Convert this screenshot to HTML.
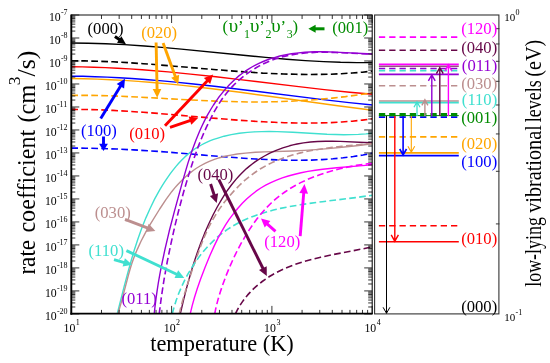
<!DOCTYPE html>
<html><head><meta charset="utf-8"><title>plot</title><style>html,body{margin:0;padding:0;background:#fff}body{width:550px;height:363px;overflow:hidden}</style></head><body>
<svg width="550" height="363" viewBox="0 0 550 363" style="display:block">
<rect width="550" height="363" fill="#fff"/>
<defs><clipPath id="cl"><rect x="71.3" y="15.0" width="300.9" height="298.9"/></clipPath></defs>
<g clip-path="url(#cl)" fill="none" stroke-width="1.4" stroke-linejoin="round">
<path d="M71.3,43.0 88.3,43.2 105.8,43.7 124.6,44.6 144.5,46.0 162.0,47.4 181.3,49.1 243.3,55.3 265.6,57.4 286.7,59.2 305.4,60.6 323.6,61.6 340.5,62.3 356.8,62.6 372.6,62.6" stroke="#000000"/>
<path d="M71.3,60.8 84.6,60.9 98.5,61.3 113.0,61.8 128.7,62.7 143.2,63.7 158.9,64.9 216.2,69.7 239.2,71.5 262.7,73.1 283.8,74.0 295.9,74.3 308.0,74.5 319.5,74.4 330.3,74.2 341.2,73.7 352.1,73.0 362.3,72.2 372.6,71.1" stroke="#000000" stroke-width="1.6" stroke-dasharray="6.7,3.3"/>
<path d="M71.3,66.8 82.2,66.9 93.8,67.2 105.3,67.6 117.4,68.2 129.5,68.9 142.2,69.7 168.2,71.9 190.5,74.1 215.9,76.8 240.0,79.6 296.6,86.4 324.3,89.6 349.6,92.2 372.6,94.3" stroke="#ff0000"/>
<path d="M71.3,76.2 82.8,76.3 95.0,76.7 107.1,77.1 119.2,77.7 131.9,78.5 145.3,79.5 159.2,80.6 173.1,81.9 193.6,84.0 216.5,86.5 243.0,89.7 323.1,99.6 349.1,102.6 372.6,105.0" stroke="#0000ff"/>
<path d="M71.3,78.5 84.1,78.7 97.4,79.1 110.8,79.7 124.1,80.4 138.1,81.4 152.6,82.5 167.7,83.9 182.8,85.4 210.0,88.5 240.1,92.3 269.1,96.2 337.7,105.7 372.6,110.3" stroke="#ffa500"/>
<path d="M71.3,95.3 90.6,95.4 111.8,95.9 137.2,97.0 191.6,100.0 215.2,101.1 228.5,101.5 240.6,101.8 252.1,102.0 263.0,102.0 276.9,101.7 290.8,101.2 304.6,100.4 318.5,99.4 332.4,98.1 345.6,96.6 359.4,94.7 372.6,92.7" stroke="#ffa500" stroke-width="1.6" stroke-dasharray="6.7,3.3"/>
<path d="M71.3,109.4 84.6,109.5 98.5,109.8 113.0,110.4 128.7,111.3 143.2,112.3 158.9,113.5 216.3,118.4 239.8,120.3 263.4,121.8 274.2,122.3 284.5,122.7 296.6,123.0 308.7,123.1 320.1,122.9 331.0,122.6 341.8,122.0 352.1,121.2 362.4,120.1 372.6,118.8" stroke="#ff0000" stroke-width="1.6" stroke-dasharray="6.7,3.3"/>
<path d="M71.3,148.1 85.8,148.2 101.0,148.5 116.7,149.0 133.6,149.9 149.3,150.8 166.3,152.0 221.3,156.6 243.6,158.2 255.7,159.0 266.6,159.5 276.9,159.9 287.1,160.2 299.8,160.3 311.3,160.1 322.1,159.6 333.0,158.8 343.2,157.8 353.4,156.5 363.0,155.0 372.6,153.1" stroke="#0000ff" stroke-width="1.6" stroke-dasharray="6.7,3.3"/>
<path d="M117.2,313.9 124.1,286.7 127.5,273.9 131.0,261.2 134.3,250.0 138.0,238.8 141.9,227.8 146.0,217.6 150.2,208.2 154.7,198.9 157.2,194.3 159.7,189.8 162.4,185.4 164.8,181.6 167.7,177.3 170.3,173.7 173.0,170.1 175.8,166.6 178.7,163.3 181.8,160.0 184.9,156.9 187.7,154.5 190.5,152.1 193.4,150.0 195.7,148.3 198.8,146.5 201.3,145.0 204.4,143.4 210.3,140.7 213.7,139.4 217.1,138.3 224.1,136.2 231.2,134.6 239.2,133.3 247.4,132.4 254.1,131.9 261.6,131.6 269.1,131.5 277.3,131.6 292.8,132.2 327.0,134.2 335.7,134.5 343.7,134.7 351.0,134.6 358.4,134.4 365.9,133.9 372.6,133.3" stroke="#40e0d0"/>
<path d="M117.9,313.9 119.7,307.9 121.4,301.9 128.5,274.7 130.2,268.7 131.9,263.3 134.5,256.1 137.4,249.1 140.9,241.5 144.7,234.1 147.4,229.2 150.5,223.8 159.7,209.0 165.9,199.6 168.8,195.6 171.7,191.7 174.8,187.9 177.6,184.7 180.5,181.7 183.5,178.7 186.6,175.8 189.9,173.1 193.2,170.5 196.0,168.5 200.1,166.0 205.0,163.3 209.3,161.4 214.4,159.4 219.6,157.7 224.9,156.3 231.0,155.1 237.2,154.0 245.5,153.1 255.4,152.3 264.6,151.9 292.9,151.0 304.1,150.4 315.8,149.6 328.1,148.6 341.9,147.2 356.4,145.7 372.6,143.8" stroke="#bc8f8f"/>
<path d="M154.2,313.9 155.0,306.7 156.0,298.7 157.1,290.8 158.3,283.0 159.7,275.2 161.3,266.6 164.9,249.7 169.2,231.3 174.6,210.6 182.6,181.4 185.5,171.4 188.0,162.9 192.0,150.8 195.9,140.3 199.8,130.7 202.1,125.7 204.2,121.4 206.3,117.2 208.6,113.1 211.0,109.0 213.5,105.0 216.1,101.1 218.4,97.8 221.3,94.1 223.8,91.0 226.9,87.4 229.6,84.5 233.0,81.2 235.9,78.5 238.9,75.9 242.1,73.5 245.3,71.2 248.5,69.1 251.9,67.0 255.4,65.2 258.9,63.4 263.2,61.5 266.9,60.0 271.4,58.4 275.2,57.3 279.8,56.0 283.6,55.2 287.5,54.4 291.4,53.7 296.2,53.1 304.9,52.3 314.6,51.8 324.3,51.8 334.7,52.1 372.6,54.0" stroke="#9400d3"/>
<path d="M159.2,313.9 161.4,296.8 164.0,279.8 167.2,262.0 170.8,244.3 174.7,226.7 179.0,209.2 183.9,191.0 189.0,173.8 193.3,160.4 197.7,147.9 202.1,137.0 204.6,131.2 206.9,126.2 209.3,121.2 211.8,116.3 214.4,111.4 217.2,106.6 219.7,102.6 221.9,99.3 224.2,96.1 227.1,92.4 229.6,89.5 232.3,86.6 235.0,83.8 238.4,80.6 241.4,78.1 245.1,75.2 248.2,72.9 252.1,70.3 256.1,67.8 259.4,65.9 263.6,63.8 267.1,62.2 271.5,60.4 275.1,59.1 278.8,57.9 282.6,56.8 286.3,55.9 290.2,55.1 294.0,54.4 298.7,53.7 307.3,52.8 316.8,52.3 325.6,52.2 336.0,52.5 372.6,54.2" stroke="#9400d3" stroke-width="1.6" stroke-dasharray="6.7,3.3"/>
<path d="M180.3,313.9 183.7,299.4 186.9,286.9 190.2,275.0 193.6,263.8 197.1,253.2 200.7,243.3 204.6,233.4 208.6,224.2 213.0,215.0 217.5,206.5 222.0,198.8 226.5,191.7 231.4,185.0 236.2,179.1 239.0,176.0 241.4,173.5 246.5,168.6 249.2,166.4 251.9,164.2 254.7,162.1 257.6,160.1 263.6,156.5 269.8,153.2 276.2,150.3 282.8,147.9 289.6,145.8 293.0,144.9 297.1,144.0 303.5,142.9 310.5,142.0 317.6,141.5 325.4,141.2 332.5,141.2 340.3,141.4 364.5,142.5 372.6,142.8" stroke="#670748"/>
<path d="M179.2,313.9 181.4,305.0 184.2,295.0 187.4,284.6 191.5,272.0 197.4,255.2 201.1,244.9 204.8,235.8 208.6,227.5 212.0,220.9 215.5,215.1 219.5,208.9 223.9,202.8 229.0,196.6 234.0,190.9 239.3,185.5 244.4,180.7 249.8,176.3 254.9,172.5 260.1,169.0 266.1,165.6 272.1,162.6 278.4,159.9 285.3,157.3 292.4,155.1 299.6,153.1 307.4,151.3 315.4,149.8 324.0,148.5 332.6,147.3 341.8,146.3 372.6,143.5" stroke="#bc8f8f" stroke-width="1.6" stroke-dasharray="6.7,3.3"/>
<path d="M172.2,313.9 174.2,306.7 176.3,300.0 178.8,293.3 181.6,286.7 184.6,280.3 188.0,273.9 191.7,267.7 195.6,261.7 199.8,255.9 204.0,250.7 208.4,245.8 213.1,241.1 217.9,236.7 222.6,232.9 227.5,229.4 233.0,225.9 237.8,223.2 243.2,220.5 248.8,218.1 254.4,215.9 260.1,213.9 266.5,211.9 273.4,210.1 280.4,208.4 286.4,207.2 293.0,206.0 300.1,204.8 308.2,203.6 322.3,201.7 355.5,197.6 372.6,195.2" stroke="#40e0d0" stroke-width="1.6" stroke-dasharray="6.7,3.3"/>
<path d="M190.2,313.9 192.2,305.6 194.6,297.0 197.3,288.5 200.6,279.1 204.9,267.8 209.8,255.7 214.1,246.1 218.0,238.1 221.6,231.6 225.4,225.2 229.5,218.9 233.7,213.3 238.1,208.0 242.3,203.3 246.9,198.8 251.6,194.7 256.1,191.2 260.8,188.0 265.7,185.2 270.8,182.6 276.5,180.1 282.3,177.9 288.3,176.0 294.9,174.2 301.1,172.8 307.9,171.4 315.3,170.2 322.8,169.2 336.7,167.8 362.4,165.6 372.6,164.7" stroke="#ff00ff"/>
<path d="M214.7,313.9 216.1,306.9 218.0,299.6 220.3,291.9 222.9,284.3 226.2,275.4 229.6,267.1 233.3,258.8 237.0,251.1 240.8,243.9 244.9,236.9 248.9,230.4 253.2,224.0 257.4,218.3 261.6,213.2 266.0,208.2 270.7,203.5 275.2,199.4 279.9,195.6 284.9,192.0 290.0,188.6 295.3,185.5 301.2,182.4 307.2,179.6 313.4,177.0 319.7,174.7 326.6,172.4 333.5,170.4 340.9,168.5 348.4,166.9 356.4,165.4 364.3,164.2 372.6,163.2" stroke="#ff00ff" stroke-width="1.6" stroke-dasharray="6.7,3.3"/>
<path d="M235.4,313.9 237.0,310.6 238.9,307.2 240.8,304.1 243.0,300.9 245.3,297.8 247.7,294.9 250.3,292.1 253.2,289.1 255.9,286.6 259.0,284.0 262.2,281.5 265.6,279.1 269.0,276.8 272.5,274.7 276.0,272.7 280.0,270.7 287.2,267.5 294.9,264.5 303.5,261.7 312.5,259.2 320.7,257.2 329.8,255.2 361.0,249.2 372.6,246.8" stroke="#670748" stroke-width="1.6" stroke-dasharray="6.7,3.3"/>
</g>
<path d="M71.3,313.90h8.0M372.2,313.90h-8.0M71.3,306.98h4.0M372.2,306.98h-4.0M71.3,302.93h4.0M372.2,302.93h-4.0M71.3,300.06h4.0M372.2,300.06h-4.0M71.3,297.83h4.0M372.2,297.83h-4.0M71.3,296.01h4.0M372.2,296.01h-4.0M71.3,294.47h4.0M372.2,294.47h-4.0M71.3,293.14h4.0M372.2,293.14h-4.0M71.3,291.96h4.0M372.2,291.96h-4.0M71.3,290.91h8.0M372.2,290.91h-8.0M71.3,283.99h4.0M372.2,283.99h-4.0M71.3,279.94h4.0M372.2,279.94h-4.0M71.3,277.06h4.0M372.2,277.06h-4.0M71.3,274.84h4.0M372.2,274.84h-4.0M71.3,273.02h4.0M372.2,273.02h-4.0M71.3,271.48h4.0M372.2,271.48h-4.0M71.3,270.14h4.0M372.2,270.14h-4.0M71.3,268.97h4.0M372.2,268.97h-4.0M71.3,267.92h8.0M372.2,267.92h-8.0M71.3,260.99h4.0M372.2,260.99h-4.0M71.3,256.95h4.0M372.2,256.95h-4.0M71.3,254.07h4.0M372.2,254.07h-4.0M71.3,251.84h4.0M372.2,251.84h-4.0M71.3,250.02h4.0M372.2,250.02h-4.0M71.3,248.48h4.0M372.2,248.48h-4.0M71.3,247.15h4.0M372.2,247.15h-4.0M71.3,245.98h4.0M372.2,245.98h-4.0M71.3,244.92h8.0M372.2,244.92h-8.0M71.3,238.00h4.0M372.2,238.00h-4.0M71.3,233.95h4.0M372.2,233.95h-4.0M71.3,231.08h4.0M372.2,231.08h-4.0M71.3,228.85h4.0M372.2,228.85h-4.0M71.3,227.03h4.0M372.2,227.03h-4.0M71.3,225.49h4.0M372.2,225.49h-4.0M71.3,224.16h4.0M372.2,224.16h-4.0M71.3,222.98h4.0M372.2,222.98h-4.0M71.3,221.93h8.0M372.2,221.93h-8.0M71.3,215.01h4.0M372.2,215.01h-4.0M71.3,210.96h4.0M372.2,210.96h-4.0M71.3,208.09h4.0M372.2,208.09h-4.0M71.3,205.86h4.0M372.2,205.86h-4.0M71.3,204.04h4.0M372.2,204.04h-4.0M71.3,202.50h4.0M372.2,202.50h-4.0M71.3,201.17h4.0M372.2,201.17h-4.0M71.3,199.99h4.0M372.2,199.99h-4.0M71.3,198.94h8.0M372.2,198.94h-8.0M71.3,192.02h4.0M372.2,192.02h-4.0M71.3,187.97h4.0M372.2,187.97h-4.0M71.3,185.10h4.0M372.2,185.10h-4.0M71.3,182.87h4.0M372.2,182.87h-4.0M71.3,181.05h4.0M372.2,181.05h-4.0M71.3,179.51h4.0M372.2,179.51h-4.0M71.3,178.17h4.0M372.2,178.17h-4.0M71.3,177.00h4.0M372.2,177.00h-4.0M71.3,175.95h8.0M372.2,175.95h-8.0M71.3,169.02h4.0M372.2,169.02h-4.0M71.3,164.98h4.0M372.2,164.98h-4.0M71.3,162.10h4.0M372.2,162.10h-4.0M71.3,159.88h4.0M372.2,159.88h-4.0M71.3,158.05h4.0M372.2,158.05h-4.0M71.3,156.52h4.0M372.2,156.52h-4.0M71.3,155.18h4.0M372.2,155.18h-4.0M71.3,154.01h4.0M372.2,154.01h-4.0M71.3,152.95h8.0M372.2,152.95h-8.0M71.3,146.03h4.0M372.2,146.03h-4.0M71.3,141.98h4.0M372.2,141.98h-4.0M71.3,139.11h4.0M372.2,139.11h-4.0M71.3,136.88h4.0M372.2,136.88h-4.0M71.3,135.06h4.0M372.2,135.06h-4.0M71.3,133.52h4.0M372.2,133.52h-4.0M71.3,132.19h4.0M372.2,132.19h-4.0M71.3,131.01h4.0M372.2,131.01h-4.0M71.3,129.96h8.0M372.2,129.96h-8.0M71.3,123.04h4.0M372.2,123.04h-4.0M71.3,118.99h4.0M372.2,118.99h-4.0M71.3,116.12h4.0M372.2,116.12h-4.0M71.3,113.89h4.0M372.2,113.89h-4.0M71.3,112.07h4.0M372.2,112.07h-4.0M71.3,110.53h4.0M372.2,110.53h-4.0M71.3,109.20h4.0M372.2,109.20h-4.0M71.3,108.02h4.0M372.2,108.02h-4.0M71.3,106.97h8.0M372.2,106.97h-8.0M71.3,100.05h4.0M372.2,100.05h-4.0M71.3,96.00h4.0M372.2,96.00h-4.0M71.3,93.13h4.0M372.2,93.13h-4.0M71.3,90.90h4.0M372.2,90.90h-4.0M71.3,89.08h4.0M372.2,89.08h-4.0M71.3,87.54h4.0M372.2,87.54h-4.0M71.3,86.21h4.0M372.2,86.21h-4.0M71.3,85.03h4.0M372.2,85.03h-4.0M71.3,83.98h8.0M372.2,83.98h-8.0M71.3,77.06h4.0M372.2,77.06h-4.0M71.3,73.01h4.0M372.2,73.01h-4.0M71.3,70.13h4.0M372.2,70.13h-4.0M71.3,67.91h4.0M372.2,67.91h-4.0M71.3,66.09h4.0M372.2,66.09h-4.0M71.3,64.55h4.0M372.2,64.55h-4.0M71.3,63.21h4.0M372.2,63.21h-4.0M71.3,62.04h4.0M372.2,62.04h-4.0M71.3,60.98h8.0M372.2,60.98h-8.0M71.3,54.06h4.0M372.2,54.06h-4.0M71.3,50.01h4.0M372.2,50.01h-4.0M71.3,47.14h4.0M372.2,47.14h-4.0M71.3,44.91h4.0M372.2,44.91h-4.0M71.3,43.09h4.0M372.2,43.09h-4.0M71.3,41.55h4.0M372.2,41.55h-4.0M71.3,40.22h4.0M372.2,40.22h-4.0M71.3,39.04h4.0M372.2,39.04h-4.0M71.3,37.99h8.0M372.2,37.99h-8.0M71.3,31.07h4.0M372.2,31.07h-4.0M71.3,27.02h4.0M372.2,27.02h-4.0M71.3,24.15h4.0M372.2,24.15h-4.0M71.3,21.92h4.0M372.2,21.92h-4.0M71.3,20.10h4.0M372.2,20.10h-4.0M71.3,18.56h4.0M372.2,18.56h-4.0M71.3,17.23h4.0M372.2,17.23h-4.0M71.3,16.05h4.0M372.2,16.05h-4.0M71.3,15.00h8.0M372.2,15.00h-8.0M71.30,313.9v-8.0M71.30,15.0v8.0M101.49,313.9v-4.0M101.49,15.0v4.0M119.16,313.9v-4.0M119.16,15.0v4.0M131.69,313.9v-4.0M131.69,15.0v4.0M141.41,313.9v-4.0M141.41,15.0v4.0M149.35,313.9v-4.0M149.35,15.0v4.0M156.06,313.9v-4.0M156.06,15.0v4.0M161.88,313.9v-4.0M161.88,15.0v4.0M167.01,313.9v-4.0M167.01,15.0v4.0M171.60,313.9v-8.0M171.60,15.0v8.0M201.79,313.9v-4.0M201.79,15.0v4.0M219.46,313.9v-4.0M219.46,15.0v4.0M231.99,313.9v-4.0M231.99,15.0v4.0M241.71,313.9v-4.0M241.71,15.0v4.0M249.65,313.9v-4.0M249.65,15.0v4.0M256.36,313.9v-4.0M256.36,15.0v4.0M262.18,313.9v-4.0M262.18,15.0v4.0M267.31,313.9v-4.0M267.31,15.0v4.0M271.90,313.9v-8.0M271.90,15.0v8.0M302.09,313.9v-4.0M302.09,15.0v4.0M319.76,313.9v-4.0M319.76,15.0v4.0M332.29,313.9v-4.0M332.29,15.0v4.0M342.01,313.9v-4.0M342.01,15.0v4.0M349.95,313.9v-4.0M349.95,15.0v4.0M356.66,313.9v-4.0M356.66,15.0v4.0M362.48,313.9v-4.0M362.48,15.0v4.0M367.61,313.9v-4.0M367.61,15.0v4.0M372.20,313.9v-8.0M372.20,15.0v8.0" stroke="#111" stroke-width="0.85" fill="none"/>
<path d="M71.3,14.5V314.8" stroke="#000" stroke-width="1.9" fill="none"/>
<path d="M70.4,313.7H372.7" stroke="#000" stroke-width="1.8" fill="none"/>
<path d="M71.3,15.0H372.2V313.9" stroke="#111" stroke-width="1.1" fill="none"/>
<rect x="374.6" y="15.0" width="124.3" height="298.9" fill="none" stroke="#333" stroke-width="1.1"/>
<path d="M499.4,223.92h-3.5M499.4,171.29h-3.5M499.4,133.94h-3.5M499.4,104.98h-3.5M499.4,81.31h-3.5M499.4,61.30h-3.5M499.4,43.97h-3.5M499.4,28.68h-3.5" stroke="#333" stroke-width="1" fill="none"/>
<path d="M378.9,37.1H458.8" stroke="#ff00ff" stroke-width="1.6" stroke-dasharray="6.3,4.0"/>
<path d="M378.9,50.3H458.8" stroke="#670748" stroke-width="1.6" stroke-dasharray="6.3,4.0"/>
<path d="M378.9,64.3H458.8" stroke="#ff00ff" stroke-width="1.8"/>
<path d="M378.9,66.2H458.8" stroke="#670748" stroke-width="1.0"/>
<path d="M378.9,68.5H458.8" stroke="#9400d3" stroke-width="1.6" stroke-dasharray="6.3,4.0"/>
<path d="M378.9,70.6H458.8" stroke="#40e0d0" stroke-width="1.8" stroke-dasharray="6.3,4.0"/>
<path d="M378.9,74.3H458.8" stroke="#9400d3" stroke-width="1.7"/>
<path d="M378.9,85.8H458.8" stroke="#bc8f8f" stroke-width="1.5" stroke-dasharray="6.3,4.0"/>
<path d="M378.9,101.0H458.8" stroke="#bc8f8f" stroke-width="1.7"/>
<path d="M378.9,102.6H458.8" stroke="#40e0d0" stroke-width="1.6"/>
<path d="M378.9,117.2H458.8" stroke="#0000ff" stroke-width="1.7" stroke-dasharray="6.3,4.0"/>
<path d="M378.9,115.6H458.8" stroke="#008b00" stroke-width="1.0"/>
<path d="M378.9,114.6H458.8" stroke="#008b00" stroke-width="3.2" stroke-dasharray="6.3,4.0"/>
<path d="M378.9,136.9H458.8" stroke="#ffa500" stroke-width="1.6" stroke-dasharray="6.3,4.0"/>
<path d="M378.9,152.8H458.8" stroke="#ffa500" stroke-width="1.7"/>
<path d="M378.9,155.6H458.8" stroke="#0000ff" stroke-width="1.8"/>
<path d="M378.9,225.7H458.8" stroke="#ff0000" stroke-width="1.4" stroke-dasharray="6.3,4.0"/>
<path d="M378.9,241.7H458.8" stroke="#ff0000" stroke-width="1.6"/>
<path d="M386.5,116.0V313.3M383.1,307.3L386.5,313.3L389.9,307.3" stroke="#000000" stroke-width="1.0" fill="none"/>
<path d="M394.8,116.0V241.2M391.2,234.8L394.8,241.2L398.4,234.8" stroke="#ff0000" stroke-width="1.4" fill="none"/>
<path d="M403.1,116.0V155.0M399.7,149.0L403.1,155.0L406.5,149.0" stroke="#0000ff" stroke-width="1.6" fill="none"/>
<path d="M411.3,116.0V152.2M407.9,146.2L411.3,152.2L414.7,146.2" stroke="#ffa500" stroke-width="1.1" fill="none"/>
<path d="M417.0,116.0V101.8M414.0,107.3L417.0,101.8L420.0,107.3" stroke="#40e0d0" stroke-width="1.3" fill="none"/>
<path d="M424.9,116.0V99.8M421.9,105.3L424.9,99.8L427.9,105.3" stroke="#bc8f8f" stroke-width="1.4" fill="none"/>
<path d="M431.8,116.0V74.8M428.4,80.8L431.8,74.8L435.2,80.8" stroke="#9400d3" stroke-width="1.4" fill="none"/>
<path d="M439.8,116.0V67.6M436.4,73.6L439.8,67.6L443.2,73.6" stroke="#670748" stroke-width="1.4" fill="none"/>
<path d="M448.4,116.0V64.8M445.0,70.8L448.4,64.8L451.8,70.8" stroke="#ff00ff" stroke-width="1.4" fill="none"/>
<path d="M114.9,36.5L120.4,40.3" stroke="#000000" stroke-width="3.0"/>
<path d="M126.0,44.2L117.0,42.7L121.4,36.3Z" fill="#000000"/>
<path d="M156.1,42.5L157.1,90.5" stroke="#ffa500" stroke-width="2.9"/>
<path d="M157.2,97.8L152.7,89.1L161.3,88.9Z" fill="#ffa500"/>
<path d="M163.1,43.0L175.7,77.6" stroke="#ffa500" stroke-width="2.9"/>
<path d="M178.2,84.5L171.2,77.7L179.2,74.8Z" fill="#ffa500"/>
<path d="M100.7,118.6L121.2,85.0" stroke="#0000ff" stroke-width="2.9"/>
<path d="M125.0,78.8L124.1,88.6L116.7,84.1Z" fill="#0000ff"/>
<path d="M103.5,136.5L103.5,145.3" stroke="#0000ff" stroke-width="2.9"/>
<path d="M103.5,151.0L99.1,143.8L107.9,143.8Z" fill="#0000ff"/>
<path d="M165.0,125.8L208.1,79.9" stroke="#ff0000" stroke-width="2.9"/>
<path d="M213.1,74.6L210.2,84.0L203.9,78.1Z" fill="#ff0000"/>
<path d="M170.0,127.3L191.4,120.1" stroke="#ff0000" stroke-width="2.9"/>
<path d="M198.3,117.8L191.3,124.7L188.6,116.5Z" fill="#ff0000"/>
<path d="M125.0,219.3L148.6,228.4" stroke="#bc8f8f" stroke-width="2.9"/>
<path d="M155.4,231.0L145.6,231.9L148.7,223.8Z" fill="#bc8f8f"/>
<path d="M114.0,259.7L125.2,262.8" stroke="#40e0d0" stroke-width="2.9"/>
<path d="M132.2,264.7L122.6,266.5L124.9,258.2Z" fill="#40e0d0"/>
<path d="M126.4,250.6L177.7,274.8" stroke="#40e0d0" stroke-width="2.9"/>
<path d="M184.3,277.9L174.5,278.0L178.2,270.3Z" fill="#40e0d0"/>
<path d="M210.6,184.0L214.5,196.0" stroke="#670748" stroke-width="2.9"/>
<path d="M216.7,203.0L209.9,195.9L218.1,193.3Z" fill="#670748"/>
<path d="M218.8,179.5L263.5,269.5" stroke="#670748" stroke-width="2.9"/>
<path d="M266.8,276.0L259.0,270.0L266.7,266.2Z" fill="#670748"/>
<path d="M275.5,231.3L266.5,223.3" stroke="#ff00ff" stroke-width="2.9"/>
<path d="M261.0,218.4L270.4,221.0L264.7,227.5Z" fill="#ff00ff"/>
<path d="M300.2,236.2L303.8,192.0" stroke="#ff00ff" stroke-width="2.9"/>
<path d="M304.5,184.0L308.0,193.8L299.4,193.1Z" fill="#ff00ff"/>
<path d="M324.5,28.8L314.1,28.8" stroke="#008b00" stroke-width="3.0"/>
<path d="M308.4,28.8L315.6,24.8L315.6,32.8Z" fill="#008b00"/>
<g style="font-family:'Liberation Serif','DejaVu Serif',serif">
<text x="87.6" y="34.4" fill="#000000" font-size="16.6" text-anchor="start">(000)</text>
<text x="141.2" y="37.8" fill="#ffa500" font-size="16.6" text-anchor="start">(020)</text>
<text x="332.3" y="32.6" fill="#008b00" font-size="16.6" text-anchor="start">(001)</text>
<text x="80.9" y="136.0" fill="#0000ff" font-size="16.6" text-anchor="start">(100)</text>
<text x="129.2" y="138.5" fill="#ff0000" font-size="16.6" text-anchor="start">(010)</text>
<text x="197.4" y="179.5" fill="#670748" font-size="16.6" text-anchor="start">(040)</text>
<text x="94.8" y="217.5" fill="#bc8f8f" font-size="16.6" text-anchor="start">(030)</text>
<text x="88.6" y="255.5" fill="#40e0d0" font-size="16.6" text-anchor="start">(110)</text>
<text x="121.5" y="303.8" fill="#9400d3" font-size="16.6" text-anchor="start">(011)</text>
<text x="264.3" y="246.8" fill="#ff00ff" font-size="16.6" text-anchor="start">(120)</text>
<g fill="#008b00">
<text x="222.6" y="32.1" font-size="16.6">(</text>
<text x="228.7" y="32.1" font-size="19">υ</text><text x="238.0" y="32.1" font-size="16.6">’</text><text x="244.1" y="37.8" font-size="12">1</text>
<text x="250.0" y="32.1" font-size="19">υ</text><text x="259.3" y="32.1" font-size="16.6">’</text><text x="265.4" y="37.8" font-size="12">2</text>
<text x="271.3" y="32.1" font-size="19">υ</text><text x="280.6" y="32.1" font-size="16.6">’</text><text x="286.7" y="37.8" font-size="12">3</text>
<text x="292.6" y="32.1" font-size="16.6">)</text>
</g>
<text x="497.2" y="33.6" fill="#ff00ff" font-size="16.6" text-anchor="end">(120)</text>
<text x="497.2" y="53.1" fill="#670748" font-size="16.6" text-anchor="end">(040)</text>
<text x="497.2" y="70.8" fill="#9400d3" font-size="16.6" text-anchor="end">(011)</text>
<text x="497.2" y="88.9" fill="#bc8f8f" font-size="16.6" text-anchor="end">(030)</text>
<text x="497.2" y="105.4" fill="#40e0d0" font-size="16.6" text-anchor="end">(110)</text>
<text x="497.2" y="123.0" fill="#008b00" font-size="16.6" text-anchor="end">(001)</text>
<text x="497.2" y="148.9" fill="#ffa500" font-size="16.6" text-anchor="end">(020)</text>
<text x="497.2" y="167.1" fill="#0000ff" font-size="16.6" text-anchor="end">(100)</text>
<text x="497.2" y="243.8" fill="#ff0000" font-size="16.6" text-anchor="end">(010)</text>
<text x="497.2" y="311.5" fill="#000000" font-size="16.6" text-anchor="end">(000)</text>
<text x="56.7" y="319.6" font-size="11.8" text-anchor="end">10</text><text x="56.9" y="314.0" font-size="8">-20</text>
<text x="56.7" y="296.6" font-size="11.8" text-anchor="end">10</text><text x="56.9" y="291.0" font-size="8">-19</text>
<text x="56.7" y="273.6" font-size="11.8" text-anchor="end">10</text><text x="56.9" y="268.0" font-size="8">-18</text>
<text x="56.7" y="250.6" font-size="11.8" text-anchor="end">10</text><text x="56.9" y="245.0" font-size="8">-17</text>
<text x="56.7" y="227.6" font-size="11.8" text-anchor="end">10</text><text x="56.9" y="222.0" font-size="8">-16</text>
<text x="56.7" y="204.6" font-size="11.8" text-anchor="end">10</text><text x="56.9" y="199.0" font-size="8">-15</text>
<text x="56.7" y="181.6" font-size="11.8" text-anchor="end">10</text><text x="56.9" y="176.0" font-size="8">-14</text>
<text x="56.7" y="158.7" font-size="11.8" text-anchor="end">10</text><text x="56.9" y="153.1" font-size="8">-13</text>
<text x="56.7" y="135.7" font-size="11.8" text-anchor="end">10</text><text x="56.9" y="130.1" font-size="8">-12</text>
<text x="56.7" y="112.7" font-size="11.8" text-anchor="end">10</text><text x="56.9" y="107.1" font-size="8">-11</text>
<text x="56.7" y="89.7" font-size="11.8" text-anchor="end">10</text><text x="56.9" y="84.1" font-size="8">-10</text>
<text x="60.7" y="66.7" font-size="11.8" text-anchor="end">10</text><text x="60.9" y="61.1" font-size="8">-9</text>
<text x="60.7" y="43.7" font-size="11.8" text-anchor="end">10</text><text x="60.9" y="38.1" font-size="8">-8</text>
<text x="60.7" y="20.7" font-size="11.8" text-anchor="end">10</text><text x="60.9" y="15.1" font-size="8">-7</text>
<text x="75.3" y="331.6" font-size="11.8" text-anchor="end">10</text><text x="75.8" y="324.8" font-size="8">1</text>
<text x="175.6" y="331.6" font-size="11.8" text-anchor="end">10</text><text x="176.1" y="324.8" font-size="8">2</text>
<text x="275.9" y="331.6" font-size="11.8" text-anchor="end">10</text><text x="276.4" y="324.8" font-size="8">3</text>
<text x="376.2" y="331.6" font-size="11.8" text-anchor="end">10</text><text x="376.7" y="324.8" font-size="8">4</text>
<text x="504.3" y="20.8" font-size="11">10</text><text x="515.6" y="15.2" font-size="8">0</text>
<text x="504.3" y="320.5" font-size="11">10</text><text x="515.6" y="315.3" font-size="8">-1</text>
<text x="150.2" y="351.4" font-size="22.4">temperature (K)</text>
<text transform="translate(34.9,274.6) rotate(-90) scale(0.950,1)" font-size="24.4">rate</text>
<text transform="translate(34.9,232.6) rotate(-90) scale(0.990,1)" font-size="24.4">coefficient</text>
<text transform="translate(34.9,122.6) rotate(-90) scale(1.000,1)" font-size="24.4">(cm</text>
<text transform="translate(34.9,76.4) rotate(-90) scale(1.060,1)" font-size="24.4">/s)</text>
<text transform="translate(20.4,85.2) rotate(-90)" font-size="17.3">3</text>
<text transform="translate(541.4,286.8) rotate(-90) scale(0.975,1.2)" font-size="18.4">low-lying</text>
<text transform="translate(541.4,212.8) rotate(-90) scale(1.100,1.2)" font-size="18.4">vibrational</text>
<text transform="translate(541.4,122.2) rotate(-90) scale(0.980,1.2)" font-size="18.4">levels</text>
<text transform="translate(541.4,76.8) rotate(-90) scale(1.100,1.2)" font-size="18.4">(eV)</text>
</g>
</svg>
</body></html>
